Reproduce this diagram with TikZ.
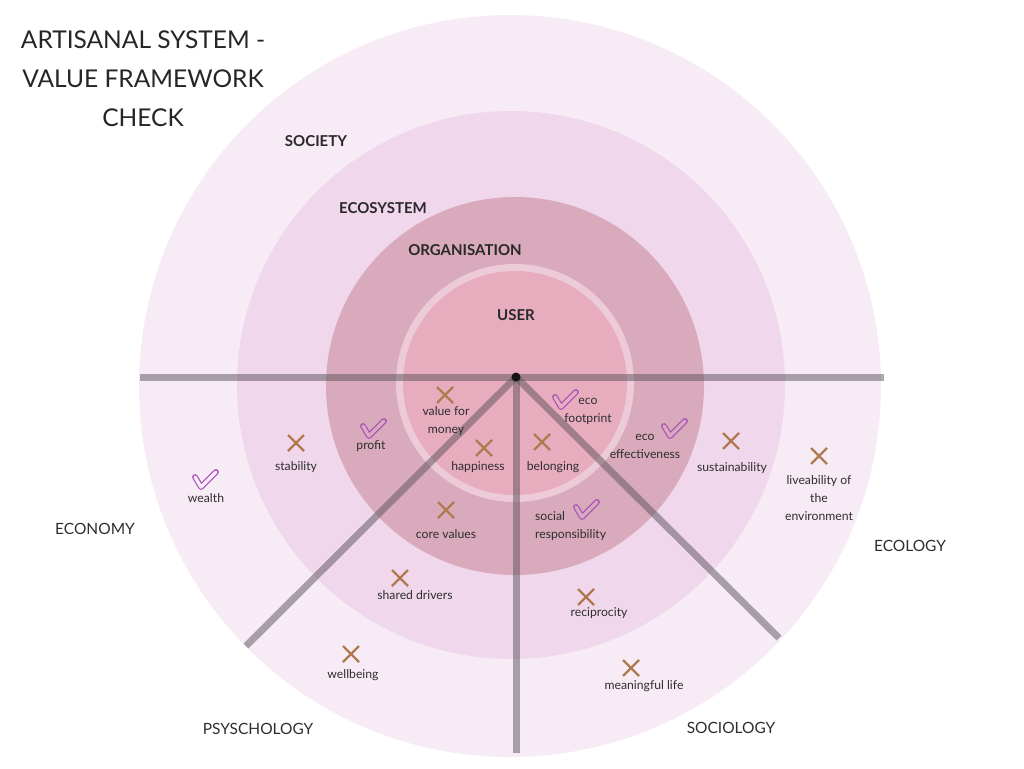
\documentclass[tikz,border=0pt]{standalone}
\usepackage{fontspec}
\setmainfont{Lato}
\usetikzlibrary{calc, positioning}

\definecolor{ringsoc}{HTML}{F7ECF6}
\definecolor{ringeco}{HTML}{F0D7EC}
\definecolor{ringorg}{HTML}{D9A9BC}
\definecolor{ringuser}{HTML}{E7ADBF}
\definecolor{ringhalo}{HTML}{EDCAD7}
\definecolor{spoke}{HTML}{5A5259}
\definecolor{crossc}{HTML}{B07A4E}
\definecolor{tickc}{HTML}{A952B8}
\definecolor{txt}{HTML}{2E2E2E}

\tikzset{
  item/.style={text=txt, font=\fontsize{12.2}{18}\selectfont, align=center, inner sep=0pt},
  level/.style={text=txt!90!black, font=\fontsize{15}{18}\selectfont\bfseries, inner sep=0pt},
  field/.style={text=txt, font=\fontsize{15.5}{18}\selectfont, inner sep=0pt},
  spokeline/.style={spoke, opacity=0.5, line width=7pt},
  pics/nomark/.style={code={
    \draw[crossc, line width=2.2pt] (-8,-8) -- (8,8) (-8,8) -- (8,-8);}},
  pics/yesmark/.style={code={
    \draw[tickc, line width=5.8pt, line cap=round, line join=round] (-10,-3) -- (-4,7) -- (11,-8);
    \draw[#1, line width=3.4pt, line cap=round, line join=round] (-10,-3) -- (-4,7) -- (11,-8);}},
}

\begin{document}
\begin{tikzpicture}[x=1pt,y=-1pt]
  \useasboundingbox (0,0) rectangle (1024,768);

  % rings
  \fill[ringsoc] (510,386) circle (371);
  \fill[ringeco] (511,385) circle (274);
  \fill[ringorg] (515,386) circle (189);
  \fill[ringhalo] (515,383) circle (119);
  \fill[ringuser] (515,383) circle (112);

  % spokes
  \coordinate (hub) at (516,377);
  \coordinate (westend) at (140,377);
  \coordinate (eastend) at (884,377);
  \coordinate (psyend) at (246,646);
  \coordinate (socend) at (516,753);
  \coordinate (ecoend) at (779,638);
  \draw[spokeline] (westend) -- (eastend);
  \draw[spokeline] (hub) -- (psyend);
  \draw[spokeline] (hub) -- (socend);
  \draw[spokeline] (hub) -- (ecoend);
  \fill[black!75!spoke] (hub) circle (4.5);

  % title
  \node[text=black!85, font=\fontsize{24.5}{39}\selectfont, align=center] (title) at (143,79)
    {ARTISANAL SYSTEM -\\VALUE FRAMEWORK\\CHECK};

  % levels
  \node[level] (society) at (316,141) {SOCIETY};
  \node[level] (ecosystem) at (383,208) {ECOSYSTEM};
  \node[level] (organisation) at (465,250) {ORGANISATION};
  \node[level] (user) at (516,315) {USER};

  % fields
  \node[field] (economy) at (95,529) {ECONOMY};
  \node[field] (ecology) at (910,546) {ECOLOGY};
  \node[field] (psychology) at (258,729) {PSYSCHOLOGY};
  \node[field] (sociology) at (731,728) {SOCIOLOGY};

  % user
  \pic at (445,395) {nomark};
  \node[item] (valmoney) at (446,421) {value for\\money};
  \pic at (484,448) {nomark};
  \node[item] (happy) at (478,467) {happiness};
  \pic at (542,442) {nomark};
  \node[item] (belong) at (553,467) {belonging};
  \pic at (565,400) {yesmark=ringuser};
  \node[item] (ecofoot) at (588,411) {eco\\footprint};

  % organisation
  \pic at (373,429) {yesmark=ringorg};
  \node[item] (profit) at (371,446) {profit};
  \pic at (674,429) {yesmark=ringorg};
  \node[item] (ecoeff) at (645,446) {eco\\effectiveness};
  \pic at (446,510) {nomark};
  \node[item] (corevals) at (446,534) {core values};
  \pic at (586,510) {yesmark=ringorg};
  \node[item, align=left, anchor=west] (socresp) at (535,526) {social\\responsibility};

  % ecosystem
  \pic at (296,443) {nomark};
  \node[item] (stability) at (296,467) {stability};
  \pic at (731,441) {nomark};
  \node[item] (sustain) at (732,468) {sustainability};
  \pic at (400,578) {nomark};
  \node[item] (shared) at (415,595) {shared drivers};
  \pic at (586,597) {nomark};
  \node[item] (recip) at (599,613) {reciprocity};

  % society
  \pic at (205,480) {yesmark=ringsoc};
  \node[item] (wealth) at (206,498) {wealth};
  \pic at (819,456) {nomark};
  \node[item] (liveable) at (819,498) {liveability of\\the\\environment};
  \pic at (351,654) {nomark};
  \node[item] (wellbeing) at (353,675) {wellbeing};
  \pic at (631,668) {nomark};
  \node[item] (meaning) at (644,686) {meaningful life};
\end{tikzpicture}
\end{document}
